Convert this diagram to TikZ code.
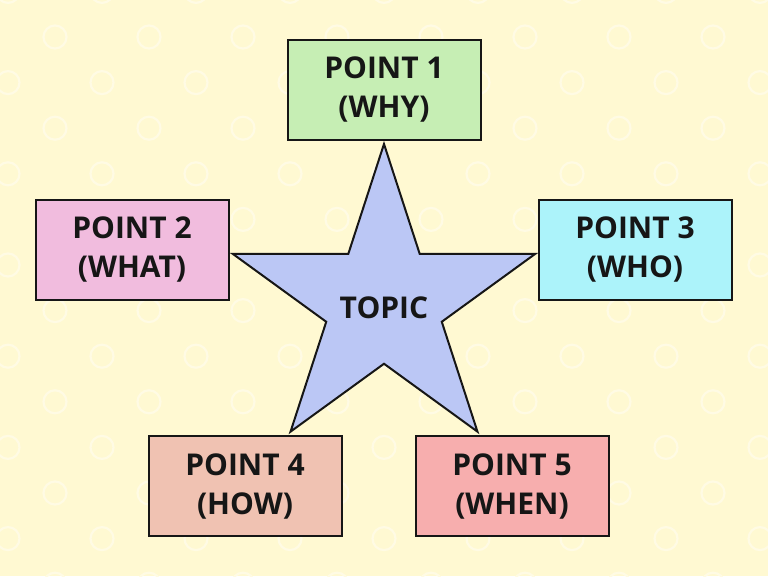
\documentclass[tikz,border=0pt]{standalone}
\usepackage{fontspec}
\setmainfont{Open Sans}
\usepackage{tikz}
\usetikzlibrary{shapes.geometric}

\definecolor{bgyellow}{RGB}{255,249,210}
\definecolor{dotyellow}{RGB}{255,251,228}
\definecolor{edgegray}{RGB}{22,22,22}
\definecolor{whygreen}{RGB}{198,238,180}
\definecolor{whatpink}{RGB}{241,188,222}
\definecolor{whocyan}{RGB}{172,243,250}
\definecolor{howsalmon}{RGB}{240,194,178}
\definecolor{whenred}{RGB}{247,174,174}
\definecolor{topicblue}{RGB}{187,199,245}

\begin{document}
\begin{tikzpicture}[x=1pt,y=-1pt,
    pointbox/.style ={rectangle, draw=edgegray, line width=2pt, minimum width=193pt,
      minimum height=100pt, align=center, text=edgegray,
      font=\bfseries\fontsize{30}{39}\selectfont},
    topicstar/.style ={star, star points=5, star point ratio=2.618, draw=edgegray,
      line width=2pt, fill=topicblue, minimum size=318pt, inner sep=0pt},
    topictext/.style ={text=edgegray, font=\bfseries\fontsize{30}{36}\selectfont}]
   \useasboundingbox (0,0) rectangle (768,576);
   \fill[bgyellow] (0,0) rectangle (768,576);
   \foreach \k in {0,...,13}
     \foreach \c in {0,...,8}
       \draw[dotyellow, line width=2.2pt] ({8+47*mod(\k,2)+94*\c},{-8.6+45.6*\k}) circle (11.5);

   \node[topicstar] (T) at (384,303) {};
   \node[topictext] (TT) at (384,308) {TOPIC};

   \node[pointbox, fill=whygreen] (P1) at (384,89.5) {POINT 1\\(WHY)};
   \node[pointbox, fill=whatpink] (P2) at (132,249.5) {POINT 2\\(WHAT)};
   \node[pointbox, fill=whocyan] (P3) at (635,249.5) {POINT 3\\(WHO)};
   \node[pointbox, fill=howsalmon] (P4) at (245,486) {POINT 4\\(HOW)};
   \node[pointbox, fill=whenred] (P5) at (512,486) {POINT 5\\(WHEN)};

 \end{tikzpicture}
\end{document}
